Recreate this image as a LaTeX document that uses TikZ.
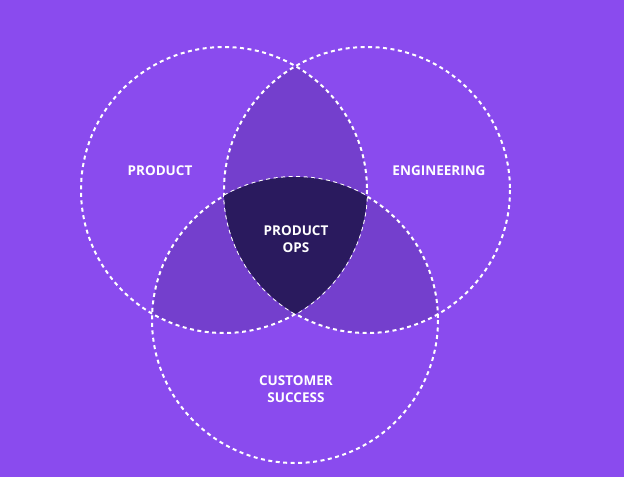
\documentclass[tikz,border=0pt]{standalone}
\usepackage{fontspec}
\setmainfont{Open Sans}
\definecolor{bgpurple}{HTML}{8A4BEE}
\definecolor{pairpurple}{HTML}{743FCD}
\definecolor{corepurple}{HTML}{2A1A5E}
\tikzset{
    ring/.style={draw=white, dashed, dash pattern=on 4pt off 3.5pt, line width=2pt},
    tag/.style={text=white, font=\bfseries\fontsize{13.5}{17}\selectfont, align=center}
}
\begin{document}
\begin{tikzpicture}[x=1pt, y=-1pt]
    \fill[bgpurple] (0,0) rectangle (624,477);
    \useasboundingbox (0,0) rectangle (624,477);
    \coordinate (pc) at (224,190);
    \coordinate (ec) at (367,190);
    \coordinate (cc) at (295,320);
    % pairwise overlaps
    \begin{scope}
        \clip (pc) circle (143);
        \fill[pairpurple] (ec) circle (143);
        \fill[pairpurple] (cc) circle (143);
    \end{scope}
    \begin{scope}
        \clip (ec) circle (143);
        \fill[pairpurple] (cc) circle (143);
    \end{scope}
    \draw[ring] (pc) circle (143);
    \draw[ring] (ec) circle (143);
    \draw[ring] (cc) circle (143);
    % triple overlap
    \begin{scope}
        \clip (pc) circle (143);
        \clip (ec) circle (143);
        \fill[corepurple] (cc) circle (143);
    \end{scope}
    \node[tag] (product) at (160,171) {PRODUCT};
    \node[tag] (engineering) at (439,171) {ENGINEERING};
    \node[tag] (ops) at (296,239) {PRODUCT\\OPS};
    \node[tag] (success) at (296,389) {CUSTOMER\\SUCCESS};
\end{tikzpicture}
\end{document}
